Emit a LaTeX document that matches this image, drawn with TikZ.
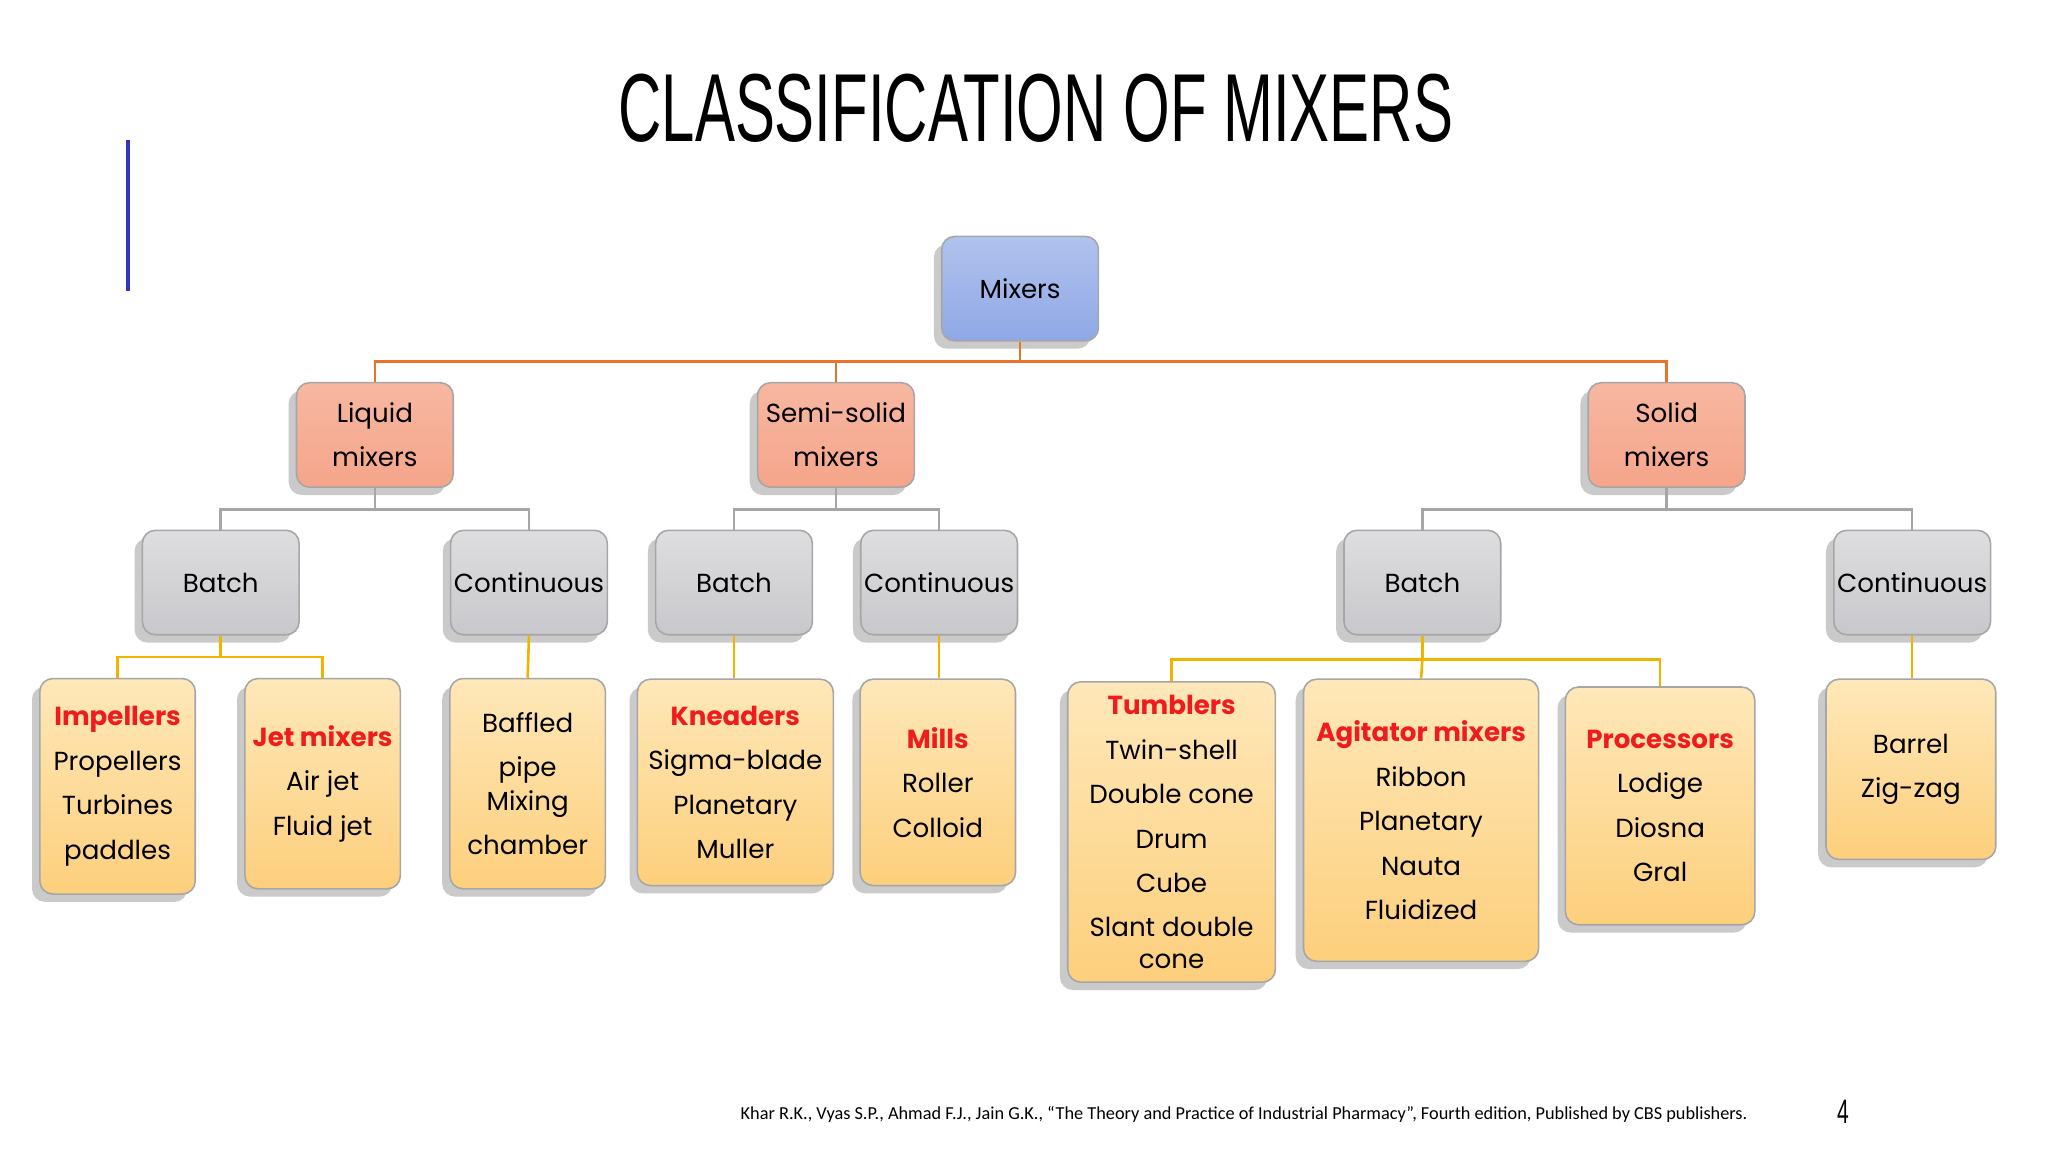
\documentclass[tikz,border=0pt]{standalone}
\usepackage{fontspec}
\setmainfont{Poppins}
\newfontfamily\titlefont[FakeStretch=0.62]{Liberation Sans}
\newfontfamily\notefont{Carlito}
\usetikzlibrary{shadows}
\definecolor{blueA}{HTML}{8FA8E6}
\definecolor{salm}{HTML}{F5A58A}
\definecolor{greyA}{HTML}{C8C8CC}
\definecolor{yel}{HTML}{FDD88A}
\definecolor{orl}{HTML}{E8742C}
\definecolor{gol}{HTML}{F0B400}
\definecolor{redt}{HTML}{EE1C1C}
\tikzset{
  x=0.5pt,y=-0.5pt,
  box/.style={draw=black!35,line width=0.6pt,rounded corners=5pt,align=center,inner sep=0pt,
    font=\fontsize{10}{17}\selectfont,drop shadow={shadow xshift=-3pt,shadow yshift=-3pt,opacity=0.35,fill=black!60}},
  top/.style={box,top color=blueA!70,bottom color=blueA,minimum width=60pt,minimum height=40pt},
  mid/.style={box,top color=salm!80,bottom color=salm,minimum width=60pt,minimum height=40pt},
  grey/.style={box,top color=greyA!60,bottom color=greyA,minimum width=60pt,minimum height=40pt},
  leaf/.style={box,top color=yel!60,bottom color=yel!90!orange},
  orl/.style={draw=orl,line width=1pt},
  gline/.style={draw=black!35,line width=1pt},
  yline/.style={draw=gol,line width=1pt},
}
\newcommand{\hd}[1]{{\color{redt}\bfseries #1}}
\begin{document}
\begin{tikzpicture}
\useasboundingbox (0,0) rectangle (1568,882);
\node[font=\titlefont\fontsize{37}{40}\selectfont] (title) at (793,83) {CLASSIFICATION OF MIXERS};
\draw[draw=blue!70!black!80,line width=1.2pt] (98,107) coordinate (la) -- (98,223) coordinate (lb);
\node[top] (m) at (781,221) {Mixers};
\node[mid] (l) at (287,333) {Liquid\\mixers};
\node[mid] (s) at (640,333) {Semi-solid\\mixers};
\node[mid] (o) at (1276,333) {Solid\\mixers};
\node[grey] (lb1) at (169,446) {Batch};
\node[grey] (lc1) at (405,446) {Continuous};
\node[grey] (sb1) at (562,446) {Batch};
\node[grey] (sc1) at (719,446) {Continuous};
\node[grey] (ob1) at (1089,446) {Batch};
\node[grey] (oc1) at (1464,446) {Continuous};
\node[leaf,minimum width=59.5pt,minimum height=82.5pt] (f1) at (90,602) {\hd{Impellers}\\Propellers\\Turbines\\paddles};
\node[leaf,minimum width=59.5pt,minimum height=80.5pt] (f2) at (247,600) {\hd{Jet mixers}\\Air jet\\Fluid jet};
\node[leaf,minimum width=59.5pt,minimum height=80.5pt] (f3) at (404,600) {Baffled\\pipe\\[-4pt]Mixing\\chamber};
\node[leaf,minimum width=75pt,minimum height=79pt] (f4) at (563,599) {\hd{Kneaders}\\Sigma-blade\\Planetary\\Muller};
\node[leaf,minimum width=59.5pt,minimum height=79pt] (f5) at (718,599) {\hd{Mills}\\Roller\\Colloid};
\node[leaf,minimum width=79.5pt,minimum height=115pt] (f6) at (897,637) {\hd{Tumblers}\\Twin-shell\\Double cone\\Drum\\Cube\\Slant double\\[-5pt]cone};
\node[leaf,minimum width=90pt,minimum height=108pt] (f7) at (1088,628) {\hd{Agitator mixers}\\Ribbon\\Planetary\\Nauta\\Fluidized};
\node[leaf,minimum width=72.5pt,minimum height=91pt] (f8) at (1271,617) {\hd{Processors}\\Lodige\\Diosna\\Gral};
\node[leaf,minimum width=65pt,minimum height=69pt] (f9) at (1463,589) {Barrel\\Zig-zag};
% connectors
\draw[orl] (m.south) -- (781,277) -| (l.north);
\draw[orl] (781,277) -| (s.north);
\draw[orl] (781,277) -| (o.north);
\draw[gline] (l.south) -- (287,390) -| (lb1.north);
\draw[gline] (287,390) -| (lc1.north);
\draw[gline] (s.south) -- (640,390) -| (sb1.north);
\draw[gline] (640,390) -| (sc1.north);
\draw[gline] (o.south) -- (1276,390) -| (ob1.north);
\draw[gline] (1276,390) -| (oc1.north);
\draw[yline] (lb1.south) -- (169,503) -| (f1.north);
\draw[yline] (169,503) -| (f2.north);
\draw[yline] (lc1.south) -- (f3.north);
\draw[yline] (sb1.south) -- (sb1.south |- f4.north);
\draw[yline] (sc1.south) -- (sc1.south |- f5.north);
\draw[yline] (ob1.south) -- (1089,505) -| (f6.north);
\draw[yline] (1089,505) -- (f7.north);
\draw[yline] (1089,505) -| (f8.north);
\draw[yline] (oc1.south) -- (oc1.south |- f9.north);
\node[font=\notefont\fontsize{7}{8}\selectfont,anchor=west] (ref) at (560,853) {Khar R.K., Vyas S.P., Ahmad F.J., Jain G.K., “The Theory and Practice of Industrial Pharmacy”, Fourth edition, Published by CBS publishers.};
\node[font=\titlefont\fontsize{13}{14}\selectfont] (pg) at (1411,851) {4};
\end{tikzpicture}
\end{document}
